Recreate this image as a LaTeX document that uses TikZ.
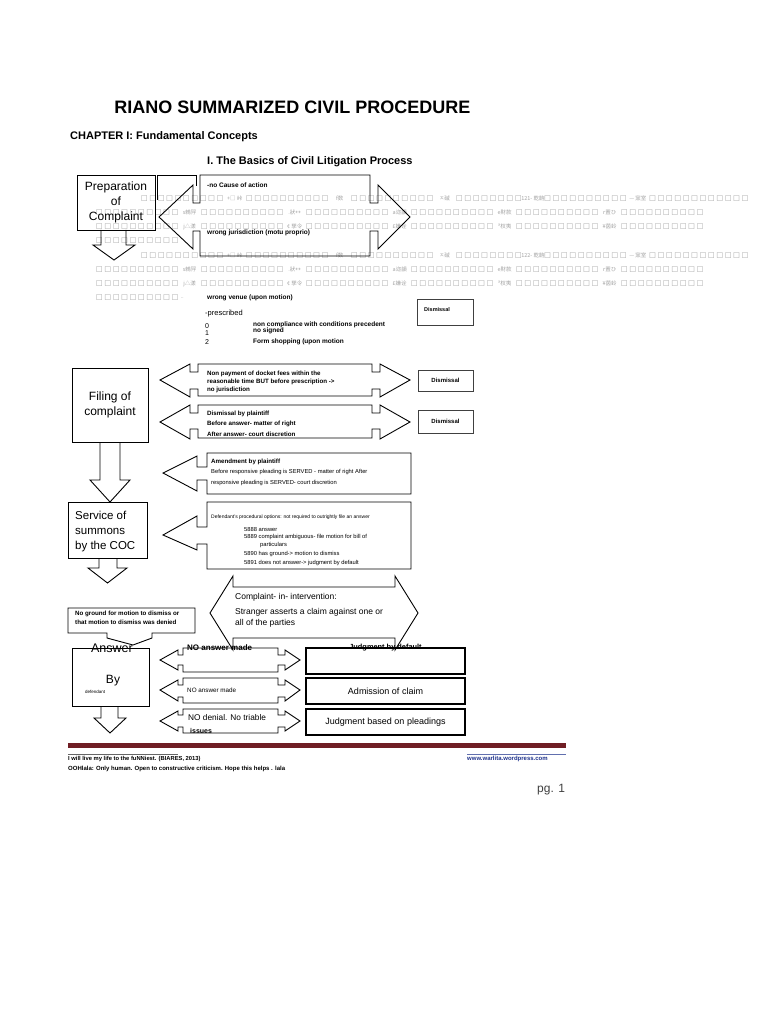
\documentclass[tikz,border=0pt]{standalone}
\usepackage{fontspec}
\setmainfont{Liberation Sans}
\newfontfamily\dvfont{DejaVu Sans}
\newfontfamily\cjkfont{Noto Sans CJK SC}
\definecolor{maroon}{RGB}{112,30,36}
\definecolor{linkblue}{RGB}{30,50,140}
\definecolor{tofu}{RGB}{165,165,165}
\newcommand\fsz[2]{\fontsize{#1}{#2}\selectfont}
\newcommand\bx{\makebox[8.4pt]{\dvfont\fsz{7.3}{7.3}□}}
\ExplSyntaxOn
\cs_new:Npn \bxn #1 {\prg_replicate:nn{#1}{\bx}}
\ExplSyntaxOff
\newcommand\frg[1]{\makebox[21pt]{\cjkfont\fsz{5.5}{5.5}#1}}
\newcommand\zzset[6]{\def\zzL{#1}\def\zzR{#2}\def\zzbl{#3}\def\zzbr{#4}\def\zztl{#5}\def\zztr{#6}}
% left-right arrow callout: T B sT sB hT hB m
\newcommand\lrc[7]{\draw[shp] (\zzL,#1) -- (\zzR,#1) -- (\zzR,#3) -- (\zzbr,#3) -- (\zzbr,#5) -- (\zztr,#7) -- (\zzbr,#6) -- (\zzbr,#4) -- (\zzR,#4) -- (\zzR,#2) -- (\zzL,#2) -- (\zzL,#4) -- (\zzbl,#4) -- (\zzbl,#6) -- (\zztl,#7) -- (\zzbl,#5) -- (\zzbl,#3) -- (\zzL,#3) -- cycle;}
% left arrow callout
\newcommand\lcl[7]{\draw[shp] (\zzL,#1) -- (\zzR,#1) -- (\zzR,#2) -- (\zzL,#2) -- (\zzL,#4) -- (\zzbl,#4) -- (\zzbl,#6) -- (\zztl,#7) -- (\zzbl,#5) -- (\zzbl,#3) -- (\zzL,#3) -- cycle;}
% down arrow: x1 x2 ytop yhead hx1 hx2 tipy
\newcommand\darr[7]{\draw[shp] (#1,#3) -- (#1,#4) -- (#5,#4) -- ({(#5+#6)/2},#7) -- (#6,#4) -- (#2,#4) -- (#2,#3);}
\begin{document}
\begin{tikzpicture}[x=1pt,y=-1pt,line join=miter,
  shp/.style={draw=black,line width=0.9},
  boxs/.style={draw=black,line width=0.9},
  dbox/.style={draw=black!75,line width=0.8},
  jbox/.style={draw=black,line width=1.4},
  tofurow/.style={anchor=west,inner sep=0,text=tofu},
  lbl/.style={anchor=west,inner sep=0},
  ml/.style={anchor=north west,inner sep=0,align=left}]
\fill[white] (0,0) rectangle (768,1024);
\useasboundingbox (0,0) rectangle (768,1024);

% headings
\node[anchor=base,inner sep=0] (title) at (292.5,114) {\bfseries\fsz{18}{18}RIANO SUMMARIZED CIVIL PROCEDURE};
\node[anchor=base west,inner sep=0] (chap) at (70,140) {\bfseries\fsz{11}{11}CHAPTER I: Fundamental Concepts};
\node[anchor=base west,inner sep=0] (basics) at (207,165) {\bfseries\fsz{11}{11}I. The Basics of Civil Litigation Process};

% garbled grey rows
\node[tofurow] (r1) at (140,199) {\bxn{10}\frg{+□ 峠}\bxn{10}\frg{f数}\bxn{10}\frg{ㅈ碱}\bxn{8}\frg{121- 乾齣}\bxn{10}\frg{— 窯室}\bxn{12}};
\node[tofurow] (r2) at (95,213) {\bxn{10}\frg{s鶆殍}\bxn{10}\frg{.狀↔}\bxn{10}\frg{a迩韻}\bxn{10}\frg{e財款}\bxn{10}\frg{r置ひ}\bxn{10}};
\node[tofurow] (r3) at (95,227) {\bxn{10}\frg{j△漾}\bxn{10}\frg{¢ 孳令}\bxn{10}\frg{£嫌诠}\bxn{10}\frg{ª权夷}\bxn{10}\frg{¥茵蛉}\bxn{10}};
\node[tofurow] (r4) at (95,241) {\bxn{10}};
\node[tofurow] (r5) at (140,256) {\bxn{10}\frg{+□ 峠}\bxn{10}\frg{f数}\bxn{10}\frg{ㅈ碱}\bxn{8}\frg{122- 乾齣}\bxn{10}\frg{— 窯室}\bxn{12}};
\node[tofurow] (r6) at (95,270) {\bxn{10}\frg{s鶆殍}\bxn{10}\frg{.狀↔}\bxn{10}\frg{a迩韻}\bxn{10}\frg{e財款}\bxn{10}\frg{r置ひ}\bxn{10}};
\node[tofurow] (r7) at (95,284) {\bxn{10}\frg{j△漾}\bxn{10}\frg{¢ 孳令}\bxn{10}\frg{£嫌诠}\bxn{10}\frg{ª权夷}\bxn{10}\frg{¥茵蛉}\bxn{10}};
\node[tofurow] (r8) at (95,298) {\bxn{10}\makebox[6pt]{\fsz{5}{5}··}};

% Preparation of complaint
\draw[boxs] (77,175) rectangle (155,230);
\node[align=center,inner sep=0,font=\fsz{12}{15}] (prep) at (116,202) {Preparation\\of\\Complaint};
\darr{101}{126}{230}{245}{93}{135}{260}
\draw[shp] (157,200) -- (157,175) -- (196,175) -- (196,186);
\zzset{200}{370}{193}{378}{159}{410}
\lrc{175}{256}{203}{231}{185}{249}{217}
\node[lbl] (nca) at (207,185) {\bfseries\fsz{6.5}{6.5}-no Cause of action};
\node[lbl] (wj) at (207,233) {\bfseries\fsz{6.5}{6.5}wrong jurisdiction (motu proprio)};
\node[lbl] (wv) at (207,298) {\bfseries\fsz{6.5}{6.5}wrong venue (upon motion)};
\node[lbl] (pres) at (205,314) {\fsz{7.5}{7.5}-prescribed};
\node[lbl] (n0) at (205,326) {\fsz{7}{7}0};
\node[lbl] (n1) at (205,333) {\fsz{7}{7}1};
\node[lbl] (n2) at (205,342) {\fsz{7}{7}2};
\node[lbl] (ncc) at (253,325) {\bfseries\fsz{6.5}{6.5}non compliance with conditions precedent};
\node[lbl] (nsg) at (253,331) {\bfseries\fsz{6.5}{6.5}no signed};
\node[lbl] (fsh) at (253,342) {\bfseries\fsz{6.5}{6.5}Form shopping (upon motion};
\draw[dbox] (417,299) rectangle (473,325);
\node[lbl] (dis0) at (424,310) {\bfseries\fsz{5.5}{5.5}Dismissal};

% Filing of complaint
\draw[boxs] (72,368) rectangle (148,442);
\node[align=center,inner sep=0,font=\fsz{12}{15}] (filing) at (110,404.5) {Filing of\\complaint};
\darr{100}{120}{442}{480}{90}{130}{502}
\zzset{198}{372}{190}{380}{160}{410}
\lrc{364}{396}{372}{389}{364}{397}{380}
\node[ml,font=\bfseries\fsz{6.2}{8}] (npd) at (207,370.5) {Non payment of docket fees within the\\reasonable time BUT before prescription ->\\no jurisdiction};
\draw[dbox] (418,370) rectangle (473,391);
\node[inner sep=0] (dis1) at (445.5,380.5) {\bfseries\fsz{6}{6}Dismissal};
\lrc{405}{438}{413}{429}{405}{439}{422}
\node[ml,font=\bfseries\fsz{6.2}{10.5}] (dbp) at (207,410.5) {Dismissal by plaintiff\\Before answer- matter of right\\After answer- court discretion};
\draw[dbox] (418,410) rectangle (473,433);
\node[inner sep=0] (dis2) at (445.5,421.5) {\bfseries\fsz{6}{6}Dismissal};

% Amendment
\zzset{207}{411}{197}{411}{163}{411}
\lcl{453}{494}{467}{480}{456}{491}{473}
\node[lbl] (amd) at (211,462) {\bfseries\fsz{6.2}{6.2}Amendment by plaintiff};
\node[ml,font=\fsz{5.8}{11}] (amd2) at (211,469.5) {Before responsive pleading is SERVED - matter of right After\\responsive pleading is SERVED- court discretion};

% Service of summons
\draw[boxs] (68,502) rectangle (147,558);
\node[anchor=west,align=left,inner sep=0,font=\fsz{11.5}{15}] (serv) at (75,532) {Service of\\summons\\by the COC};
\darr{99}{117}{558}{568}{88}{127}{583}
\lcl{502}{569}{527}{544}{516}{550}{535}
\node[lbl] (opt) at (211,517) {\fsz{5}{5}Defendant's procedural options: not required to outrightly file an answer};
\node[lbl] (o1) at (244,529) {\fsz{5.8}{5.8}5888 answer};
\node[lbl] (o2) at (244,537) {\fsz{5.8}{5.8}5889 complaint ambiguous- file motion for bill of};
\node[lbl] (o2b) at (260,545) {\fsz{5.8}{5.8}particulars};
\node[lbl] (o3) at (244,554) {\fsz{5.8}{5.8}5890 has ground-> motion to dismiss};
\node[lbl] (o4) at (244,563) {\fsz{5.8}{5.8}5891 does not answer-> judgment by default};

% Complaint in intervention
\draw[shp] (210,613) -- (233,576) -- (233,587) -- (395,587) -- (395,576) -- (418,613) -- (395,650) -- (395,638) -- (233,638) -- (233,650) -- cycle;
\node[lbl] (cii) at (235,597) {\fsz{8.5}{8.5}Complaint- in- intervention:};
\node[ml,font=\fsz{8.5}{11}] (str) at (235,608.5) {Stranger asserts a claim against one or\\all of the parties};

% No ground callout
\draw[shp] (68,608) -- (195,608) -- (195,633) -- (152,633) -- (152,638) -- (133,645) -- (107,638) -- (107,633) -- (68,633) -- cycle;
\node[ml,font=\bfseries\fsz{6.2}{9}] (nog) at (75,611) {No ground for motion to dismiss or\\that motion to dismiss was denied};

% Answer
\draw[boxs] (72,648) rectangle (149,706);
\node[inner sep=0] (ans) at (112,648) {\fsz{12.5}{12.5}Answer};
\node[inner sep=0] (by) at (113,681) {\fsz{12}{12}By};
\node[lbl] (def) at (85,692) {\fsz{4.5}{4.5}defendant};
\darr{101}{118}{706}{718}{94}{126}{733}

% bottom callouts
\zzset{183}{278}{178}{285}{160}{300}
\lrc{648}{672}{655}{665}{650}{670}{660}
\node[lbl] (na1) at (187,648) {\bfseries\fsz{8}{8}NO answer made};
\lrc{678}{703}{685}{697}{680}{701}{690}
\node[lbl] (na2) at (187,690) {\fsz{6.3}{6.3}NO answer made};
\lrc{709}{733}{715}{727}{711}{731}{721}
\node[lbl] (nd) at (188,718) {\fsz{8.3}{8.3}NO denial. No triable};
\node[lbl] (iss) at (190,731) {\bfseries\fsz{7}{7}issues};

\draw[jbox] (306,648) rectangle (465,674);
\node[inner sep=0] (jd) at (385.5,648) {\bfseries\fsz{7.4}{7.4}Judgment by default};
\draw[jbox] (306,678) rectangle (465,704);
\node[inner sep=0] (adm) at (385.5,691) {\fsz{9}{9}Admission of claim};
\draw[jbox] (306,709) rectangle (465,735);
\node[inner sep=0] (jbp) at (385.5,722.5) {\fsz{9}{9}Judgment based on pleadings};

% footer
\fill[maroon] (68,743) rectangle (566,747.5);
\draw[black!60,line width=0.5] (68,754) -- (178,754);
\draw[linkblue!70,line width=0.5] (467,754) -- (566,754);
\node[lbl] (f1) at (68,759) {\bfseries\fsz{5.8}{5.8}I will live my life to the fuNNiest. (BIARES, 2013)};
\node[lbl] (f2) at (68,769) {\bfseries\fsz{6}{6}OOHlala: Only human. Open to constructive criticism. Hope this helps . lala};
\node[lbl,text=linkblue] (url) at (467,759) {\bfseries\fsz{6}{6}www.warlita.wordpress.com};
\node[lbl,text=black!75] (pg) at (537,790) {\fsz{12}{12}pg. 1};
\end{tikzpicture}
\end{document}
